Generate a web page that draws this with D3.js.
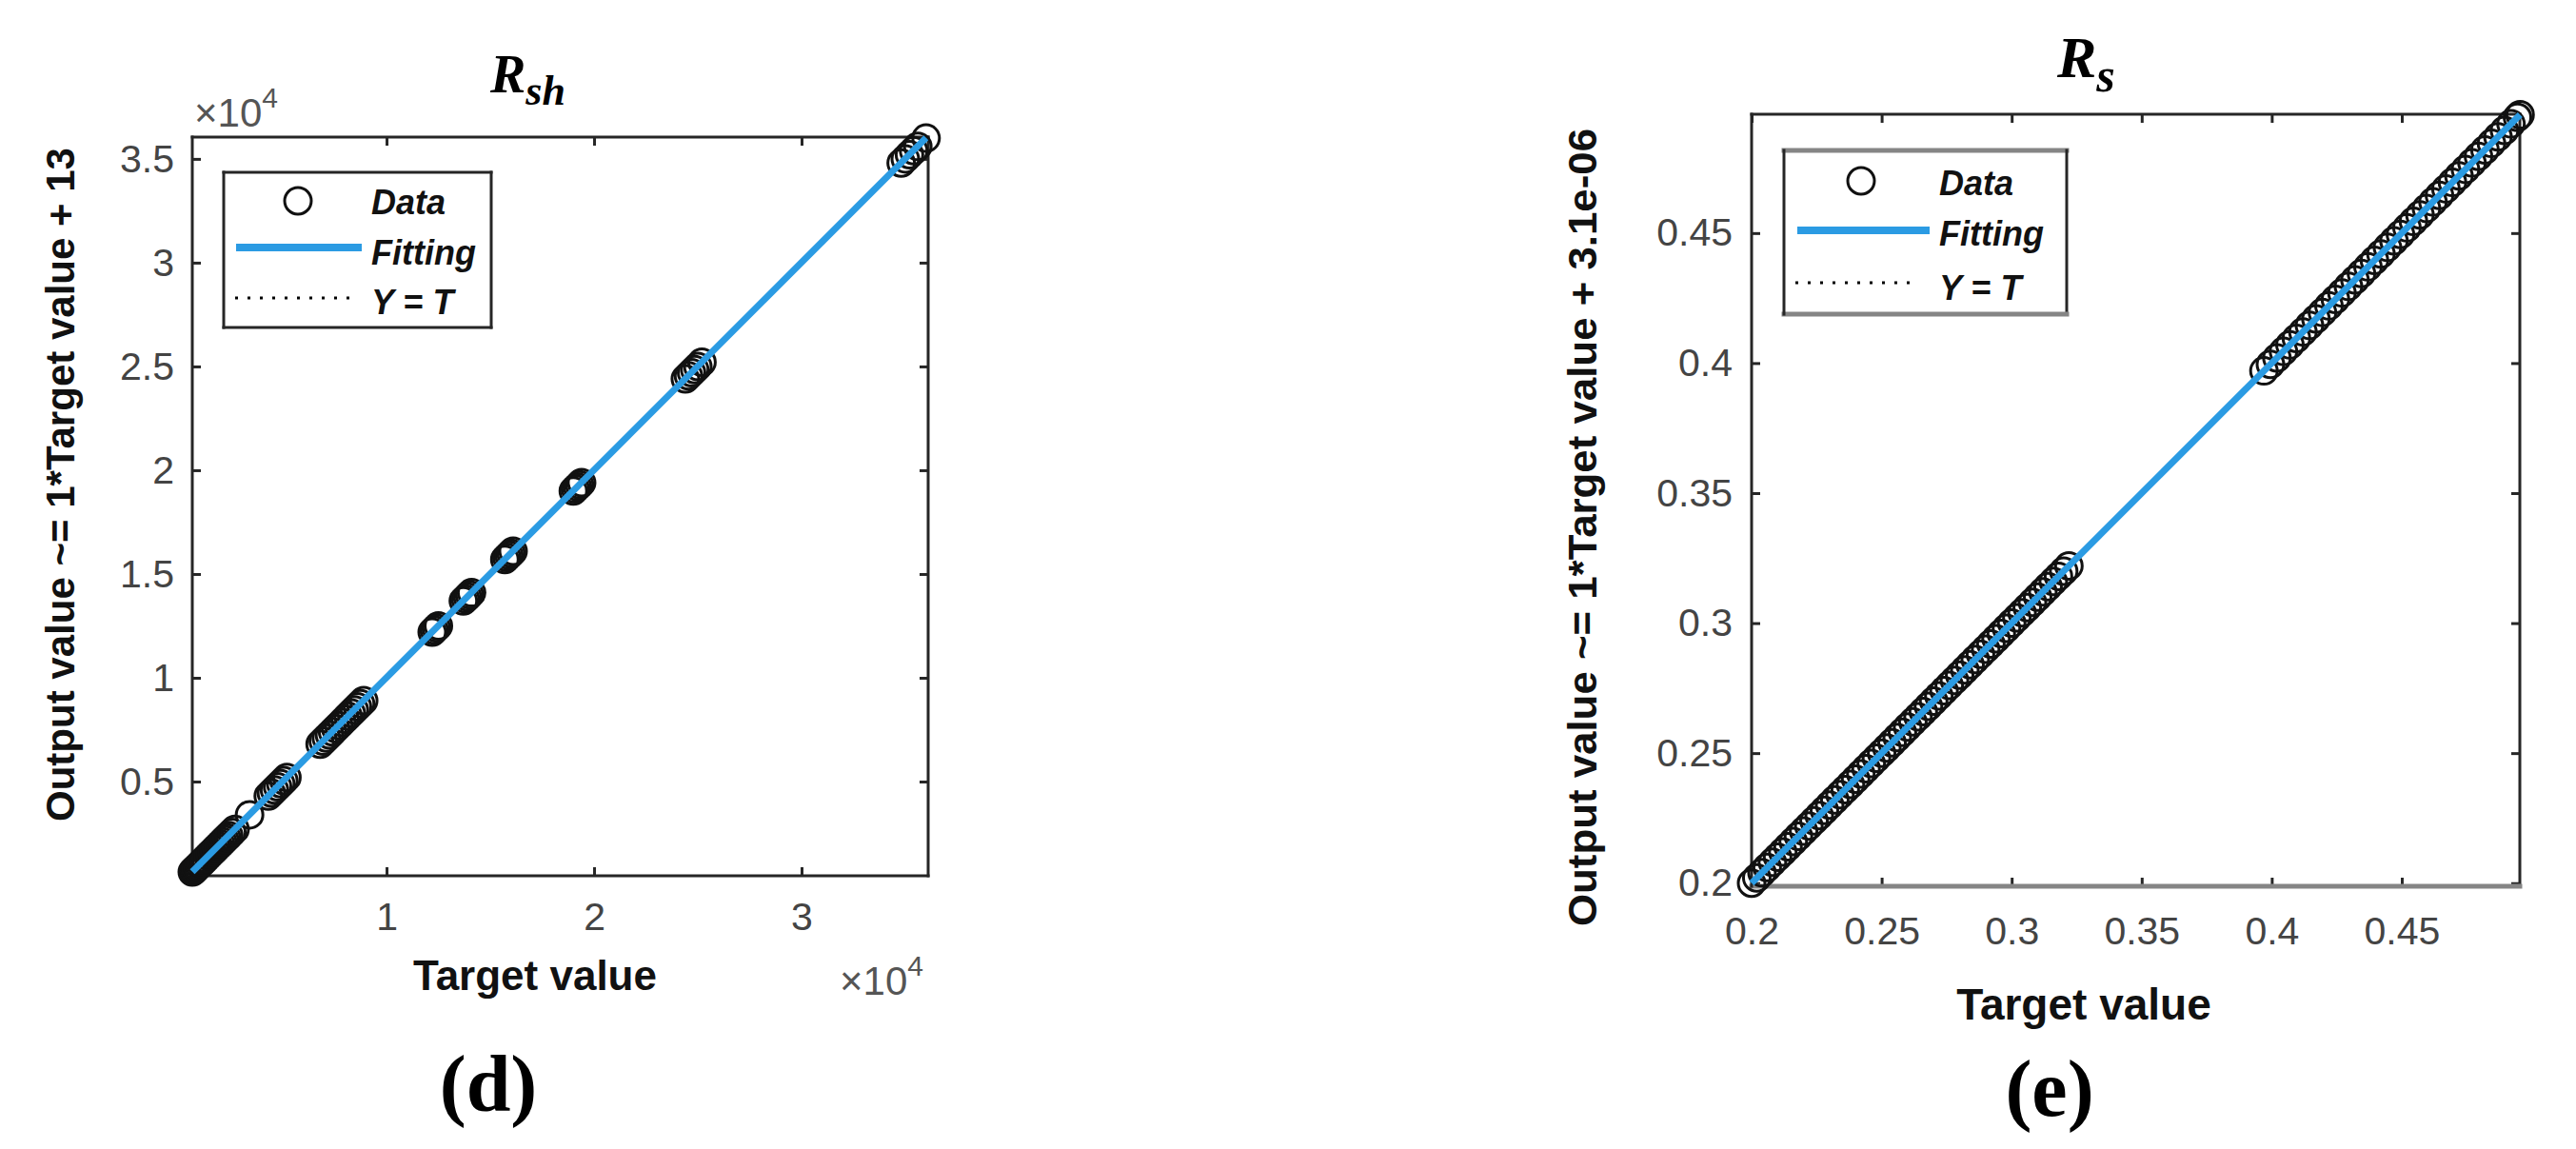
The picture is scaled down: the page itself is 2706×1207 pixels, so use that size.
<!DOCTYPE html>
<html>
<head>
<meta charset="utf-8">
<script src="https://cdn.jsdelivr.net/npm/d3@7"></script>
<style>
  body { margin: 0; background: #fff; }
  svg { display: block; }
</style>
</head>
<body>
<div id="container"></div>
<script>
// values

// (d) R_sh : target values of the data circles (output sits on the Y = T line)
const rshPoints = [640, 700, 760, 830, 900, 980, 1060, 1140, 1220, 1300, 1400, 1500, 1600, 1700, 1800,
    1900, 2000, 2100, 2200, 2300, 2400, 2550, 2700, 3400, 4300, 4450, 4600, 4750, 4900, 5050, 5200,
    6800, 6950, 7100, 7250, 7400, 7550, 7700, 7850, 8000, 8150, 8300, 8450, 8600, 8750, 8900,
    12200, 12300, 12400, 12500, 13700, 13800, 13900, 14000, 14100, 15700, 15800, 15900, 16000, 16100,
    19000, 19100, 19200, 19300, 19400, 24400, 24550, 24700, 24850, 25000, 25200,
    34800, 35000, 35200, 35400, 35600, 36000]
const rshFitCoef = [1, 13]
const rshXDomain = [640, 36100]
const rshYDomain = [460, 36050]
const rshXTicks = [10000, 20000, 30000]
const rshYTicks = [5000, 10000, 15000, 20000, 25000, 30000, 35000]

// (e) R_s
const rsPoints = [0.200, 0.202, 0.204, 0.206, 0.208, 0.210, 0.212, 0.214, 0.216, 0.218, 0.220, 0.222,
    0.224, 0.226, 0.228, 0.230, 0.232, 0.234, 0.236, 0.238, 0.240, 0.242, 0.244, 0.246, 0.248, 0.250,
    0.252, 0.254, 0.256, 0.258, 0.260, 0.262, 0.264, 0.266, 0.268, 0.270, 0.272, 0.274, 0.276, 0.278,
    0.280, 0.282, 0.284, 0.286, 0.288, 0.290, 0.292, 0.294, 0.296, 0.298, 0.300, 0.302, 0.304, 0.306,
    0.308, 0.310, 0.312, 0.314, 0.316, 0.318, 0.320, 0.322,
    0.397, 0.3995, 0.402, 0.4045, 0.407, 0.4095, 0.412, 0.4145, 0.417, 0.4195, 0.422, 0.4245, 0.427,
    0.4295, 0.432, 0.4345, 0.437, 0.4395, 0.442, 0.4445, 0.447, 0.4495, 0.452, 0.4545, 0.457, 0.4595,
    0.462, 0.4645, 0.467, 0.4695, 0.472, 0.4745, 0.477, 0.4795, 0.482, 0.4845, 0.487, 0.4895, 0.492,
    0.4945, 0.4955]
const rsFitCoef = [1, 3.1e-6]
const rsXDomain = [0.2, 0.4954]
const rsYDomain = [0.1988, 0.4957]
const rsTicks = [0.2, 0.25, 0.3, 0.35, 0.4, 0.45]

const legendLabels = ['Data', 'Fitting', 'Y = T']

const width = 2706
const height = 1207
const blue = '#2b9be3'
const dark = '#262626'
const grey = '#858585'
const sans = '"Liberation Sans", Arial, sans-serif'
const serif = '"Liberation Serif", "Times New Roman", serif'

const svg = d3.select('#container')
    .append('svg')
    .attr('width', width)
    .attr('height', height)

svg.append('rect').attr('width', width).attr('height', height).attr('fill', '#fff')

const drawPanel = (p) => {
    const x = d3.scaleLinear().domain(p.xDomain).range([p.left, p.right])
    const y = d3.scaleLinear().domain(p.yDomain).range([p.bottom, p.top])
    const g = svg.append('g')
    const tick = 9

    const styleAxis = sel => {
        sel.select('.domain').remove()
        sel.attr('font-size', 41).attr('font-family', sans)
        sel.selectAll('line').attr('stroke', dark).attr('stroke-width', 3)
        sel.selectAll('text').attr('fill', '#444')
    }

    // ticks point inward, mirrored on top and right like matlab's box
    g.append('g')
        .attr('transform', `translate(0, ${p.bottom})`)
        .call(d3.axisBottom(x).tickValues(p.xTicks).tickSizeInner(-tick).tickSizeOuter(0)
            .tickPadding(p.xPad).tickFormat(p.xFormat))
        .call(styleAxis)
    g.append('g')
        .attr('transform', `translate(0, ${p.top})`)
        .call(d3.axisTop(x).tickValues(p.xTicks).tickSizeInner(-tick).tickSizeOuter(0).tickFormat(''))
        .call(styleAxis)
    g.append('g')
        .attr('transform', `translate(${p.left}, 0)`)
        .call(d3.axisLeft(y).tickValues(p.yTicks).tickSizeInner(-tick).tickSizeOuter(0)
            .tickPadding(p.yPad).tickFormat(p.yFormat))
        .call(styleAxis)
    g.append('g')
        .attr('transform', `translate(${p.right}, 0)`)
        .call(d3.axisRight(y).tickValues(p.yTicks).tickSizeInner(-tick).tickSizeOuter(0).tickFormat(''))
        .call(styleAxis)

    // frame
    const frame = [
        [p.left, p.top, p.right, p.top, p.frame.top],
        [p.right, p.top, p.right, p.bottom, p.frame.right],
        [p.left, p.bottom, p.right, p.bottom, p.frame.bottom],
        [p.left, p.top, p.left, p.bottom, p.frame.left]
    ]
    g.selectAll('.frame').data(frame)
        .join('line')
        .attr('class', 'frame')
        .attr('x1', d => d[0]).attr('y1', d => d[1])
        .attr('x2', d => d[2]).attr('y2', d => d[3])
        .attr('stroke', d => d[4][0])
        .attr('stroke-width', d => d[4][1])
        .attr('stroke-linecap', 'square')

    // data circles
    g.selectAll('circle.dot').data(p.points)
        .join('circle')
        .attr('class', 'dot')
        .attr('cx', d => x(d))
        .attr('cy', d => y(d))
        .attr('r', 14)
        .attr('fill', 'none')
        .attr('stroke', '#111')
        .attr('stroke-width', 3)

    const ext = d3.extent(p.points)
    const line = d3.line().x(d => x(d[0])).y(d => y(d[1]))

    // Y = T (ends up hidden under the fit)
    g.append('path')
        .datum(ext.map(t => [t, t]))
        .attr('d', line)
        .attr('stroke', '#000')
        .attr('stroke-width', 2.5)
        .attr('stroke-dasharray', '2.5,8')
        .attr('fill', 'none')

    // fitting line
    g.append('path')
        .datum(ext.map(t => [t, p.fit[0] * t + p.fit[1]]))
        .attr('d', line)
        .attr('stroke', blue)
        .attr('stroke-width', 7)
        .attr('fill', 'none')

    // legend
    const lg = p.legend
    const lgFrame = [
        [lg.x0, lg.y0, lg.x1, lg.y0, lg.frame.top],
        [lg.x1, lg.y0, lg.x1, lg.y1, lg.frame.side],
        [lg.x0, lg.y1, lg.x1, lg.y1, lg.frame.top],
        [lg.x0, lg.y0, lg.x0, lg.y1, lg.frame.side]
    ]
    g.append('rect')
        .attr('x', lg.x0).attr('y', lg.y0)
        .attr('width', lg.x1 - lg.x0).attr('height', lg.y1 - lg.y0)
        .attr('fill', '#fff')
    g.selectAll('.lgframe').data(lgFrame)
        .join('line')
        .attr('class', 'lgframe')
        .attr('x1', d => d[0]).attr('y1', d => d[1])
        .attr('x2', d => d[2]).attr('y2', d => d[3])
        .attr('stroke', d => d[4][0])
        .attr('stroke-width', d => d[4][1])
        .attr('stroke-linecap', 'square')

    g.append('circle')
        .attr('cx', lg.marker[0]).attr('cy', lg.marker[1])
        .attr('r', 14)
        .attr('fill', 'none')
        .attr('stroke', '#111')
        .attr('stroke-width', 3)
    g.append('line')
        .attr('x1', lg.fitLine[0]).attr('x2', lg.fitLine[1])
        .attr('y1', lg.fitLine[2]).attr('y2', lg.fitLine[2])
        .attr('stroke', blue)
        .attr('stroke-width', 8)
    g.append('line')
        .attr('x1', lg.dotLine[0]).attr('x2', lg.dotLine[1])
        .attr('y1', lg.dotLine[2]).attr('y2', lg.dotLine[2])
        .attr('stroke', '#000')
        .attr('stroke-width', 3)
        .attr('stroke-dasharray', '3,10')

    g.selectAll('.lgtext').data(legendLabels)
        .join('text')
        .attr('class', 'lgtext')
        .attr('x', lg.textX)
        .attr('y', (d, i) => lg.rows[i])
        .attr('font-family', sans)
        .attr('font-weight', 'bold')
        .attr('font-style', 'italic')
        .attr('font-size', 36)
        .attr('fill', '#111')
        .text(d => d)

    // title
    const title = g.append('text')
        .attr('x', p.title.x)
        .attr('y', p.title.y)
        .attr('font-family', serif)
        .attr('font-weight', 'bold')
        .attr('font-style', 'italic')
        .attr('fill', '#000')
    title.append('tspan').attr('font-size', p.title.size).text('R')
    title.append('tspan').attr('font-size', p.title.subSize).attr('dy', p.title.subDy).text(p.title.sub)

    // axis labels
    g.append('text')
        .attr('x', p.xLabel.x)
        .attr('y', p.xLabel.y)
        .attr('text-anchor', 'middle')
        .attr('font-family', sans)
        .attr('font-weight', 'bold')
        .attr('font-size', p.xLabel.size)
        .attr('fill', '#111')
        .text('Target value')

    g.append('text')
        .attr('transform', `translate(${p.yLabel.x}, ${p.yLabel.y}) rotate(-90)`)
        .attr('text-anchor', 'middle')
        .attr('font-family', sans)
        .attr('font-weight', 'bold')
        .attr('font-size', p.yLabel.size)
        .attr('textLength', p.yLabel.len)
        .attr('lengthAdjust', 'spacingAndGlyphs')
        .attr('fill', '#111')
        .text(p.yLabel.text)

    // exponent markers
    p.exponents.forEach(e => {
        const t = g.append('text')
            .attr('x', e[0]).attr('y', e[1])
            .attr('font-family', sans)
            .attr('font-size', 42)
            .attr('fill', '#555')
        t.append('tspan').text('×10')
        t.append('tspan').attr('font-size', 30).attr('dy', -20).text('4')
    })

    // panel letter
    g.append('text')
        .attr('x', p.letter.x)
        .attr('y', p.letter.y)
        .attr('text-anchor', 'middle')
        .attr('font-family', serif)
        .attr('font-weight', 'bold')
        .attr('font-size', 84)
        .attr('fill', '#000')
        .text(p.letter.text)
}

drawPanel({
    points: rshPoints,
    fit: rshFitCoef,
    xDomain: rshXDomain,
    yDomain: rshYDomain,
    xTicks: rshXTicks,
    yTicks: rshYTicks,
    xFormat: d => d / 1e4,
    yFormat: d => d / 1e4,
    left: 202, right: 975, top: 144, bottom: 920,
    xPad: 28, yPad: 19,
    frame: { top: [dark, 3], right: [dark, 3], bottom: [dark, 3], left: [dark, 3] },
    legend: {
        x0: 235, y0: 181, x1: 516, y1: 344,
        frame: { top: [dark, 3], side: [dark, 3] },
        marker: [313, 211],
        fitLine: [248, 380, 260],
        dotLine: [247, 368, 313],
        textX: 390,
        rows: [225, 278, 330]
    },
    title: { x: 515, y: 97, size: 56, sub: 'sh', subSize: 44, subDy: 13 },
    xLabel: { x: 562, y: 1040, size: 44 },
    yLabel: { x: 78, y: 509, size: 42, len: 708, text: 'Output value ~= 1*Target value + 13' },
    exponents: [[204, 133], [882, 1045]],
    letter: { x: 513, y: 1167, text: '(d)' }
})

drawPanel({
    points: rsPoints,
    fit: rsFitCoef,
    xDomain: rsXDomain,
    yDomain: rsYDomain,
    xTicks: rsTicks,
    yTicks: rsTicks,
    xFormat: d3.format('~g'),
    yFormat: d3.format('~g'),
    left: 1840, right: 2647, top: 120, bottom: 931,
    xPad: 32, yPad: 20,
    frame: { top: [dark, 3], right: [dark, 3], bottom: [grey, 5], left: [dark, 3] },
    legend: {
        x0: 1874, y0: 158, x1: 2171, y1: 330,
        frame: { top: [grey, 5], side: [dark, 3] },
        marker: [1955, 190],
        fitLine: [1888, 2027, 242],
        dotLine: [1886, 2015, 297],
        textX: 2037,
        rows: [205, 258, 315]
    },
    title: { x: 2161, y: 81, size: 62, sub: 's', subSize: 50, subDy: 15 },
    xLabel: { x: 2189, y: 1071, size: 46 },
    yLabel: { x: 1677, y: 554, size: 43, len: 838, text: 'Output value ~= 1*Target value + 3.1e-06' },
    exponents: [],
    letter: { x: 2153, y: 1172, text: '(e)' }
})
</script>
</body>
</html>
